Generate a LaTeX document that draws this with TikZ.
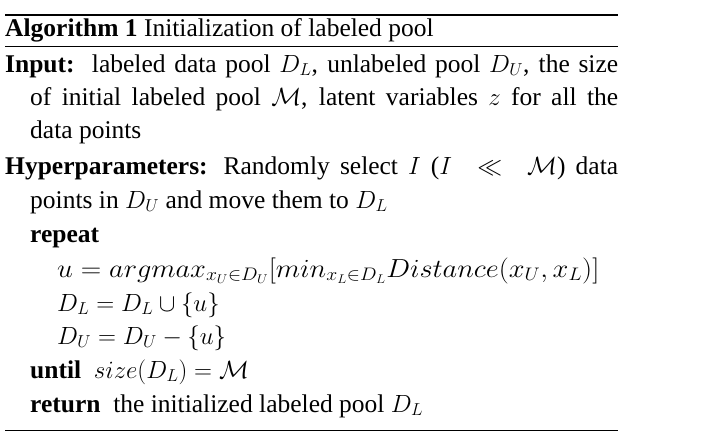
\documentclass[tikz,border=0pt]{standalone}
\usepackage{fontspec}
\usepackage{graphicx}
\setmainfont{Liberation Serif}
\begin{document}
\begin{tikzpicture}[x=1pt,y=-1pt,lt/.style={anchor=base west,inner sep=0pt,font=\fontsize{25.5}{30}\selectfont}]
\useasboundingbox (0,0) rectangle (703,436);
\draw[line width=1.4pt] (5,15) -- (618,15);
\draw[line width=0.7pt] (5,46) -- (618,46);
\draw[line width=0.7pt] (5,430) -- (618,430);
\node[lt] (t) at (5,37) {\textbf{Algorithm 1} Initialization of labeled pool};
\node[lt] (i1) at (5,72) {\hbox to 613pt{\textbf{Input:}\ \ labeled data pool $D_L$, unlabeled pool $D_U$, the size}};
\node[lt] (i2) at (30,105) {\hbox to 588pt{of initial labeled pool $\mathcal{M}$, latent variables $z$ for all the}};
\node[lt] (i3) at (30,138) {data points};
\node[lt] (h1) at (5,174) {\hbox to 613pt{\textbf{Hyperparameters:} Randomly select $I$ ($I\ \ll\ \mathcal{M}$) data}};
\node[lt] (h2) at (30,208) {points in $D_U$ and move them to $D_L$};
\node[lt] (r) at (30,242) {\textbf{repeat}};
\node[lt] (a1) at (57,277) {\scalebox{1.14}[1.05]{$u = argmax_{x_U\in D_U}[min_{x_L\in D_L}Distance(x_U,x_L)]$}};
\node[lt] (a2) at (57,311) {$D_L = D_L\cup\{u\}$};
\node[lt] (a3) at (57,344) {$D_U = D_U - \{u\}$};
\node[lt] (u) at (30,378) {\textbf{until}\ \ $size(D_L) = \mathcal{M}$};
\node[lt] (ret) at (30,412) {\textbf{return}\ \ the initialized labeled pool $D_L$};
\end{tikzpicture}
\end{document}
